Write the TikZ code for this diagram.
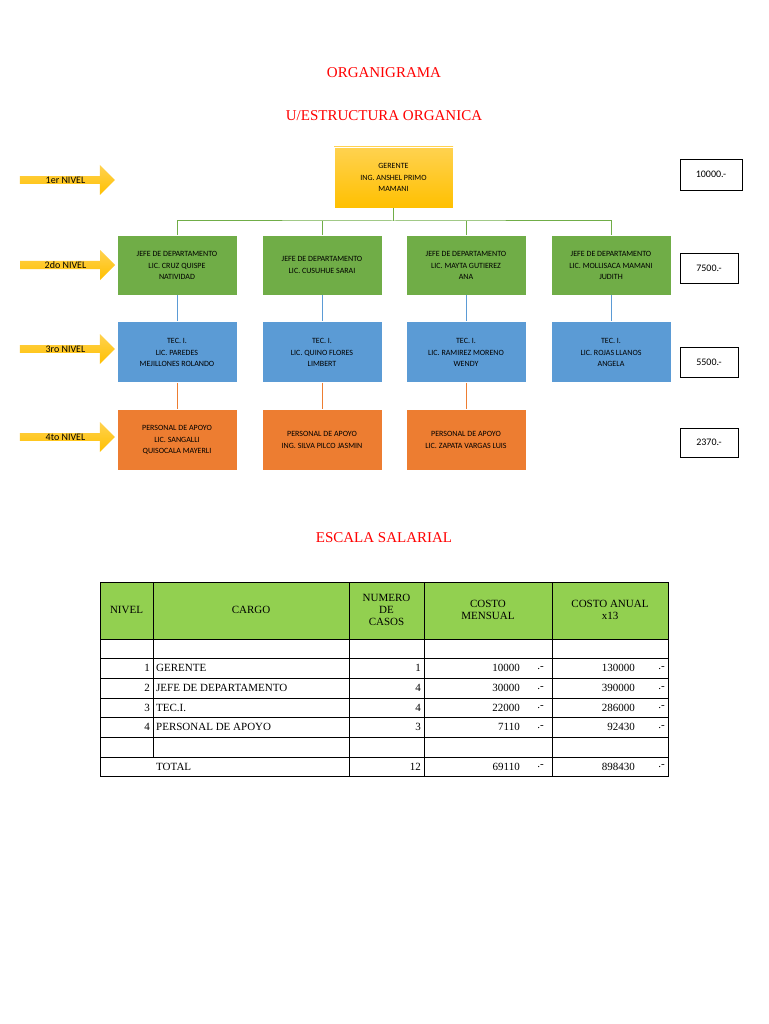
\documentclass[tikz,border=0pt]{standalone}
\usepackage{fontspec}
\setmainfont{Liberation Serif}
\newfontfamily\carfont{Carlito}
\usetikzlibrary{shapes.arrows}
\definecolor{cgreen}{RGB}{112,173,71}
\definecolor{cblue}{RGB}{91,155,213}
\definecolor{corange}{RGB}{237,125,49}
\definecolor{cgold}{RGB}{255,192,0}
\definecolor{cgoldlt}{RGB}{255,210,80}
\definecolor{thead}{RGB}{146,208,80}
\begin{document}
\begin{tikzpicture}[x=1pt,y=-1pt,
 ob/.style={minimum width=120pt,minimum height=61pt,inner sep=1pt,align=center,font=\carfont\fontsize{8}{11}\selectfont,draw=white,line width=0.5pt},
 ger/.style={ob,top color=cgoldlt,bottom color=cgold},
 jefe/.style={ob,fill=cgreen},
 tec/.style={ob,fill=cblue},
 apo/.style={ob,fill=corange},
 arr/.style={single arrow,single arrow head extend=10pt,minimum height=95pt,minimum width=30pt,inner sep=0pt,top color=cgoldlt,bottom color=cgold,font=\carfont\fontsize{10}{12}\selectfont,text depth=0pt},
 sal/.style={draw,minimum width=58pt,minimum height=30pt,inner sep=0pt,font=\carfont\fontsize{10}{12}\selectfont},
 ttl/.style={text=red,font=\fontsize{15}{18}\selectfont}]
\useasboundingbox (0,0) rectangle (768,1024);
\fill[white] (0,0) rectangle (768,1024);
\node[ttl] (t1) at (384,73) {ORGANIGRAMA};
\node[ttl] (t2) at (384,116) {U/ESTRUCTURA ORGANICA};
\node[ger,minimum width=119pt] (g) at (393.5,177.5) {GERENTE\\[1pt]ING. ANSHEL PRIMO\\MAMANI};
\foreach \x/\n/\t in {177/j1/{LIC. CRUZ QUISPE\\NATIVIDAD},322/j2/{LIC. CUSUHUE SARAI},466/j3/{LIC. MAYTA GUTIEREZ\\ANA},611/j4/{LIC. MOLLISACA MAMANI\\JUDITH}}
  \node[jefe,minimum height=60pt] (\n) at (\x,265) {JEFE DE DEPARTAMENTO\\[1pt]\t};
\foreach \x/\n/\t in {177/c1/{LIC. PAREDES\\MEJILLONES ROLANDO},322/c2/{LIC. QUINO FLORES\\LIMBERT},466/c3/{LIC. RAMIREZ MORENO\\WENDY},611/c4/{LIC. ROJAS LLANOS\\ANGELA}}
  \node[tec] (\n) at (\x,352) {TEC. I.\\[1pt]\t};
\foreach \x/\n/\t in {177/a1/{LIC. SANGALLI\\QUISOCALA MAYERLI},322/a2/{ING. SILVA PILCO JASMIN},466/a3/{LIC. ZAPATA VARGAS LUIS}}
  \node[apo] (\n) at (\x,439.5) {PERSONAL DE APOYO\\[1pt]\t};
\coordinate (h) at (393.5,221);
\draw[cgreen,line width=1pt] (g.south) -- (h) (j1.north) |- (h) -| (j4.north) (j2.north) -- (j2.north|-h) (j3.north) -- (j3.north|-h);
\foreach \i in {1,...,4} \draw[cblue,line width=0.8pt] (j\i.south) -- (c\i.north);
\foreach \i in {1,2,3} \draw[corange,line width=0.8pt] (c\i.south) -- (a\i.north);
\node[arr] (n1) at (65.5,180) {1er NIVEL\hspace{14pt}};
\node[arr] (n2) at (65.5,265) {2do NIVEL\hspace{14pt}};
\node[arr] (n3) at (65.5,349) {3ro NIVEL\hspace{14pt}};
\node[arr] (n4) at (65.5,437) {4to NIVEL\hspace{14pt}};
\node[sal,minimum width=62pt,minimum height=31pt] (s1) at (711,174.5) {10000.-};
\node[sal] (s2) at (709,268) {7500.-};
\node[sal] (s3) at (709,362) {5500.-};
\node[sal,minimum height=29pt] (s4) at (709,442.5) {2370.-};
\node[ttl] (t3) at (384,538) {ESCALA SALARIAL};
% table
\fill[thead] (100,582) rectangle (668,639);
\draw[line width=0.8pt] (100,582) rectangle (668,776);
\foreach \y in {639,658,678,698,717,737,757} \draw[line width=0.5pt] (100,\y) -- (668,\y);
\foreach \x in {153,349,424,552} \draw[line width=0.5pt] (\x,582) -- (\x,757);
\foreach \x in {349,424,552} \draw[line width=0.5pt] (\x,757) -- (\x,776);
\begin{scope}[every node/.style={font=\fontsize{11}{12}\selectfont,inner sep=2pt}]
\node (h1) at (126.5,610) {NIVEL};
\node (h2) at (251,610) {CARGO};
\node[align=center] (h3) at (386.5,610) {NUMERO\\DE\\CASOS};
\node[align=center] (h4) at (488,610) {COSTO\\MENSUAL};
\node[align=center] (h5) at (610,610) {COSTO ANUAL\\x13};
\foreach \y/\n/\c/\k/\m/\a in {668/1/GERENTE/1/10000/130000,688/2/JEFE DE DEPARTAMENTO/4/30000/390000,707.5/3/TEC.I./4/22000/286000,727/4/PERSONAL DE APOYO/3/7110/92430}{
 \node[anchor=east] at (152,\y) {\n};
 \node[anchor=west] at (154,\y) {\c};
 \node[anchor=east] at (423,\y) {\k};
 \node[anchor=east] at (522,\y) {\m};
 \node[anchor=east] at (546,\y) {.-};
 \node[anchor=east] at (637,\y) {\a};
 \node[anchor=east] at (667,\y) {.-};}
\node[anchor=west] at (154,766.5) {TOTAL};
\node[anchor=east] at (423,766.5) {12};
\node[anchor=east] at (522,766.5) {69110};
\node[anchor=east] at (546,766.5) {.-};
\node[anchor=east] at (637,766.5) {898430};
\node[anchor=east] at (667,766.5) {.-};
\end{scope}
\end{tikzpicture}
\end{document}
